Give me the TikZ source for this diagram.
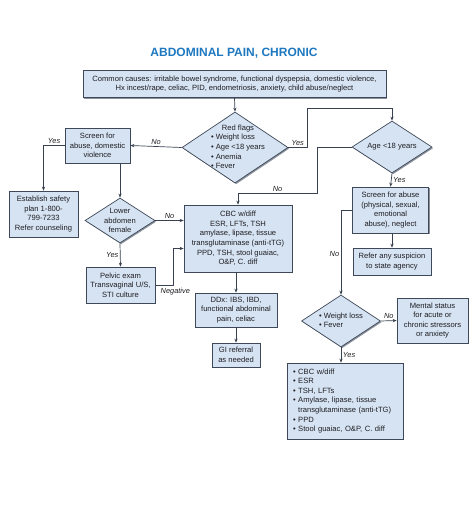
\documentclass[tikz,border=0pt]{standalone}
\usepackage{fontspec}
\setmainfont{Liberation Sans}
\usetikzlibrary{arrows.meta,shapes.geometric,shadows,calc}
\definecolor{boxfill}{RGB}{214,227,242}
\definecolor{bord}{RGB}{62,72,88}
\definecolor{shad}{RGB}{140,146,156}
\definecolor{titleblue}{RGB}{30,120,192}
\definecolor{txt}{RGB}{30,30,35}
\newcommand{\fs}{\fontsize{7.6}{9.6}\selectfont}
\newcommand{\lf}{\fontsize{7.4}{8.5}\selectfont\itshape}
\begin{document}
\begin{tikzpicture}[x=1pt,y=-1pt,
  common/.style={draw=bord, fill=boxfill, line width=0.7pt, text=txt, font=\fs,
    drop shadow={shadow xshift=1.2pt, shadow yshift=-1.2pt, fill=shad, opacity=1}},
  box/.style={common, rectangle, align=center, inner sep=1pt},
  dia/.style={common, diamond, inner sep=0pt},
  arr/.style={draw=bord!90!black, line width=0.7pt, -{Stealth[length=4pt,width=3.2pt]}},
  lbl/.style={font=\lf, text=txt, inner sep=1.5pt}]
\useasboundingbox (0,0) rectangle (474,505);

\node[font=\fontsize{12}{14}\selectfont\bfseries, text=titleblue] (title) at (234,53) {ABDOMINAL PAIN, CHRONIC};

\node[box, minimum width=303pt, minimum height=27pt] (causes) at (234.5,84)
  {Common causes: irritable bowel syndrome, functional dyspepsia, domestic violence,\\
   Hx incest/rape, celiac, PID, endometriosis, anxiety, child abuse/neglect};

\node[dia, minimum width=106pt, minimum height=71pt,
  label={[font=\fs, text=txt, inner sep=0pt, xshift=3pt]center:{\begin{tabular}{@{}l@{}}\multicolumn{1}{c}{Red flags}\\
  \textbullet\ Weight loss\\ \textbullet\ Age <18 years\\ \textbullet\ Anemia\\ \textbullet\ Fever\end{tabular}}}] (rf) at (235,147.5) {};

\node[box, minimum width=65pt, minimum height=35pt] (scr1) at (97.5,145.5)
  {Screen for\\abuse, domestic\\violence};
\node[box, minimum width=69pt, minimum height=46pt] (estab) at (43.5,214)
  {Establish safety\\plan 1-800-\\799-7233\\Refer counseling};
\node[dia, minimum width=70pt, minimum height=45pt,
  label={[font=\fs, text=txt, align=center, inner sep=0pt]center:{Lower\\abdomen\\female}}] (lad) at (120,220.5) {};
\node[box, minimum width=108pt, minimum height=67pt] (cbc) at (238,238.5)
  {CBC w/diff\\ESR, LFTs, TSH\\amylase, lipase, tissue\\transglutaminase (anti-tTG)\\PPD, TSH, stool guaiac,\\O\&P, C. diff};
\node[box, minimum width=69pt, minimum height=36pt] (pelvic) at (120.5,285)
  {Pelvic exam\\Transvaginal U/S,\\STI culture};
\node[box, minimum width=82pt, minimum height=34pt] (ddx) at (236,310)
  {DDx: IBS, IBD,\\functional abdominal\\pain, celiac};
\node[box, minimum width=48pt, minimum height=24pt] (gi) at (236,355)
  {GI referral\\as needed};

\node[dia, minimum width=80pt, minimum height=52pt,
  label={[font=\fs, text=txt, inner sep=0pt]center:{Age <18 years}}] (age) at (392,147) {};
\node[box, minimum width=76pt, minimum height=46pt] (scr2) at (390.5,210)
  {Screen for abuse\\(physical, sexual,\\emotional\\abuse), neglect};
\node[box, minimum width=78pt, minimum height=27pt] (refer) at (392,261.5)
  {Refer any suspicion\\to state agency};
\node[dia, minimum width=79pt, minimum height=52pt,
  label={[font=\fs, text=txt, inner sep=0pt]center:{\begin{tabular}{@{}l@{}}\textbullet\ Weight loss\\ \textbullet\ Fever\end{tabular}}}] (wl) at (341,321) {};
\node[box, minimum width=71pt, minimum height=45pt] (mental) at (432.5,320.5)
  {Mental status\\for acute or\\chronic stressors\\or anxiety};
\node[common, rectangle, align=left, inner xsep=6pt, inner ysep=4pt, text width=104pt, minimum height=76pt] (list) at (345,401)
  {\begin{tabular}{@{}l@{\ }l@{}}
  \textbullet & CBC w/diff\\
  \textbullet & ESR\\
  \textbullet & TSH, LFTs\\
  \textbullet & Amylase, lipase, tissue\\
   & transglutaminase (anti-tTG)\\
  \textbullet & PPD\\
  \textbullet & Stool guaiac, O\&P, C. diff
  \end{tabular}};

\coordinate (c1) at (307,108);
\coordinate (c2) at (317,193);

\draw[arr] (causes.south) -- (rf.north);
\draw[arr] (rf.west) -- node[lbl,above]{No} (scr1.east);
\draw[arr] (scr1.west) -| node[lbl,above,pos=0.25]{Yes} (estab.north);
\draw[arr] (scr1.south -| lad.north) -- (lad.north);
\draw[arr] (lad.east) -- node[lbl,above]{No} (lad.east -| cbc.west);
\draw[arr] (lad.south) -- node[lbl,left]{Yes} (pelvic.north);
\draw[arr] (pelvic.east) -- node[lbl,below,xshift=11pt,yshift=-1pt]{Negative} ++(18,0) |- ([yshift=-10pt]cbc.west);
\draw[arr] (rf.east) -- node[lbl,above]{Yes} (c1 |- rf.east) -- (c1) -| (age.north);
\draw[arr] (age.west) -| (c2) -- node[lbl,above]{No} (c2 -| cbc.north) -- (cbc.north);
\draw[arr] (age.south) -- node[lbl,right]{Yes} (scr2.north);
\draw[arr] (scr2.south -| refer.north) -- (refer.north);
\draw[arr] (scr2.west) -| node[lbl,left,pos=0.76]{No} (wl.north);
\draw[arr] (wl.east) -- node[lbl,above]{No} (mental.west);
\draw[arr] (wl.south) -- node[lbl,right]{Yes} (wl.south |- list.north);
\draw[arr] (cbc.south -| ddx.north) -- (ddx.north);
\draw[arr] (ddx.south) -- (gi.north);
\end{tikzpicture}
\end{document}
